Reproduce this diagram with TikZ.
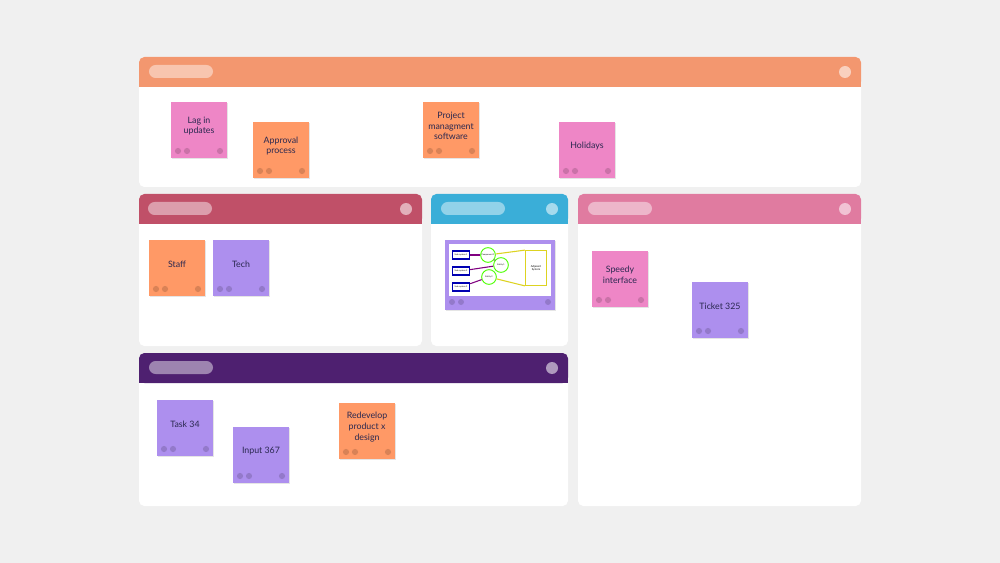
\documentclass[tikz,border=0pt]{standalone}
\usepackage{fontspec}
\setmainfont{Lato}
\definecolor{bg}{HTML}{F0F0F0}
\definecolor{horange}{HTML}{F3976F}
\definecolor{hred}{HTML}{C05068}
\definecolor{hblue}{HTML}{3AAED8}
\definecolor{hpink}{HTML}{E07BA0}
\definecolor{hpurple}{HTML}{4E2070}
\definecolor{spink}{HTML}{EE86C6}
\definecolor{sorange}{HTML}{FF9966}
\definecolor{spurple}{HTML}{AD8FEE}
\definecolor{ink}{HTML}{2A2850}
\tikzset{x=0.75pt,y=-0.75pt,
 panel/.style={fill=white,rounded corners=4pt},
 pill/.style={fill=white,fill opacity=0.45,rounded corners=5pt},
 knob/.style={fill=white,fill opacity=0.55},
 stick/.style={minimum width=42pt,minimum height=42pt,inner sep=0pt,draw=none,drop shadow={opacity=0.2,shadow xshift=0.5pt,shadow yshift=-0.8pt}},
 lab/.style={font=\fontsize{6.6}{8}\selectfont,text=ink,align=center},
 dot/.style={fill=black,fill opacity=0.15}}
\usetikzlibrary{shadows}
\newcommand\sticky[5]{% name, x, y (top-left), color, text
 \node[stick,fill=#4,anchor=north west] (#1) at (#2,#3) {};
 \node[lab,anchor=center] (#1t) at ($(#2+28,#3+24)$) {#5};
 \fill[dot] (#2+7,#3+49) circle (3.1);
 \fill[dot] (#2+16,#3+49) circle (3.1);
 \fill[dot] (#2+49,#3+49) circle (3.1);}
\usetikzlibrary{calc}
\newcommand\panel[7]{% x1,y1,x2,y2,color,pillx, name
 \fill[panel] (#1,#2) rectangle (#3,#4);
 \fill[#5,rounded corners=4pt] (#1,#2) rectangle (#3,#2+30);
 \fill[#5] (#1,#2+20) rectangle (#3,#2+30);
 \fill[pill] (#6,#2+8) rectangle (#6+64,#2+21);
 \fill[knob] (#3-16,#2+15) circle (6);
 \coordinate (#7) at (#1,#2);}
\begin{document}
\begin{tikzpicture}
\fill[bg] (0,0) rectangle (1000,563);
\useasboundingbox (0,0) rectangle (1000,563);
\panel{139}{57}{861}{187}{horange}{149}{ptop}
\panel{139}{194}{422}{346}{hred}{148}{pred}
\panel{431}{194}{568}{346}{hblue}{441}{pblue}
\panel{578}{194}{861}{506}{hpink}{588}{ppink}
\panel{139}{353}{568}{506}{hpurple}{149}{ppurple}
\sticky{s1}{171}{102}{spink}{Lag in\\updates}
\sticky{s2}{253}{122}{sorange}{Approval\\process}
\sticky{s3}{423}{102}{sorange}{Project\\managment\\software}
\sticky{s4}{559}{122}{spink}{Holidays}
\sticky{s5}{149}{240}{sorange}{Staff}
\sticky{s6}{213}{240}{spurple}{Tech}
\sticky{s7}{592}{251}{spink}{Speedy\\interface}
\sticky{s8}{692}{282}{spurple}{Ticket 325}
\sticky{s9}{157}{400}{spurple}{Task 34}
\sticky{s10}{233}{427}{spurple}{Input 367}
\sticky{s11}{339}{403}{sorange}{Redevelop\\product x\\design}
% mini diagram card
\node[fill=spurple,minimum width=82.5pt,minimum height=52pt,inner sep=0pt,anchor=north west,drop shadow={opacity=0.2,shadow xshift=0.5pt,shadow yshift=-0.8pt}] (card) at (445,240) {};
\fill[white] (449,244) rectangle (551,296);
\fill[dot] (452,302) circle (3); \fill[dot] (461,302) circle (3); \fill[dot] (548,302) circle (3);
\tikzset{mb/.style={draw=blue!70!black,line width=0.8pt,fill=white,minimum width=13pt,minimum height=6pt,inner sep=0pt,font=\fontsize{1.6}{2}\selectfont},
 mc/.style={circle,draw=green!70!yellow,line width=0.7pt,minimum size=11pt,inner sep=0pt,font=\fontsize{1.6}{2}\selectfont},
 ml/.style={line width=0.8pt}}
\node[mb] (b1) at (461,255) {Sub-system 1};
\node[mb] (b2) at (461,271) {Sub-system 2};
\node[mb] (b3) at (461,287) {Sub-system 3};
\node[mc] (c1) at (488,255) {Component 1};
\node[mc] (c2) at (501,265) {Entity 1};
\node[mc] (c3) at (489,277) {Entity 2};
\node[draw=yellow!85!black,line width=0.8pt,minimum width=16pt,minimum height=26pt,inner sep=0pt,font=\fontsize{2}{2.5}\selectfont,align=center] (adj) at (536,268) {Adjacent\\System};
\draw[ml,violet] (b1) -- (c1); \draw[ml,violet] (b2) -- (c2);
\draw[ml,violet] (b3) -- (c3); \draw[ml,violet] (c1) -- (c2);
\draw[ml,yellow!85!black] (c1) -- (adj.north west); \draw[ml,yellow!85!black] (c3) -- (adj.south west);
\end{tikzpicture}
\end{document}
